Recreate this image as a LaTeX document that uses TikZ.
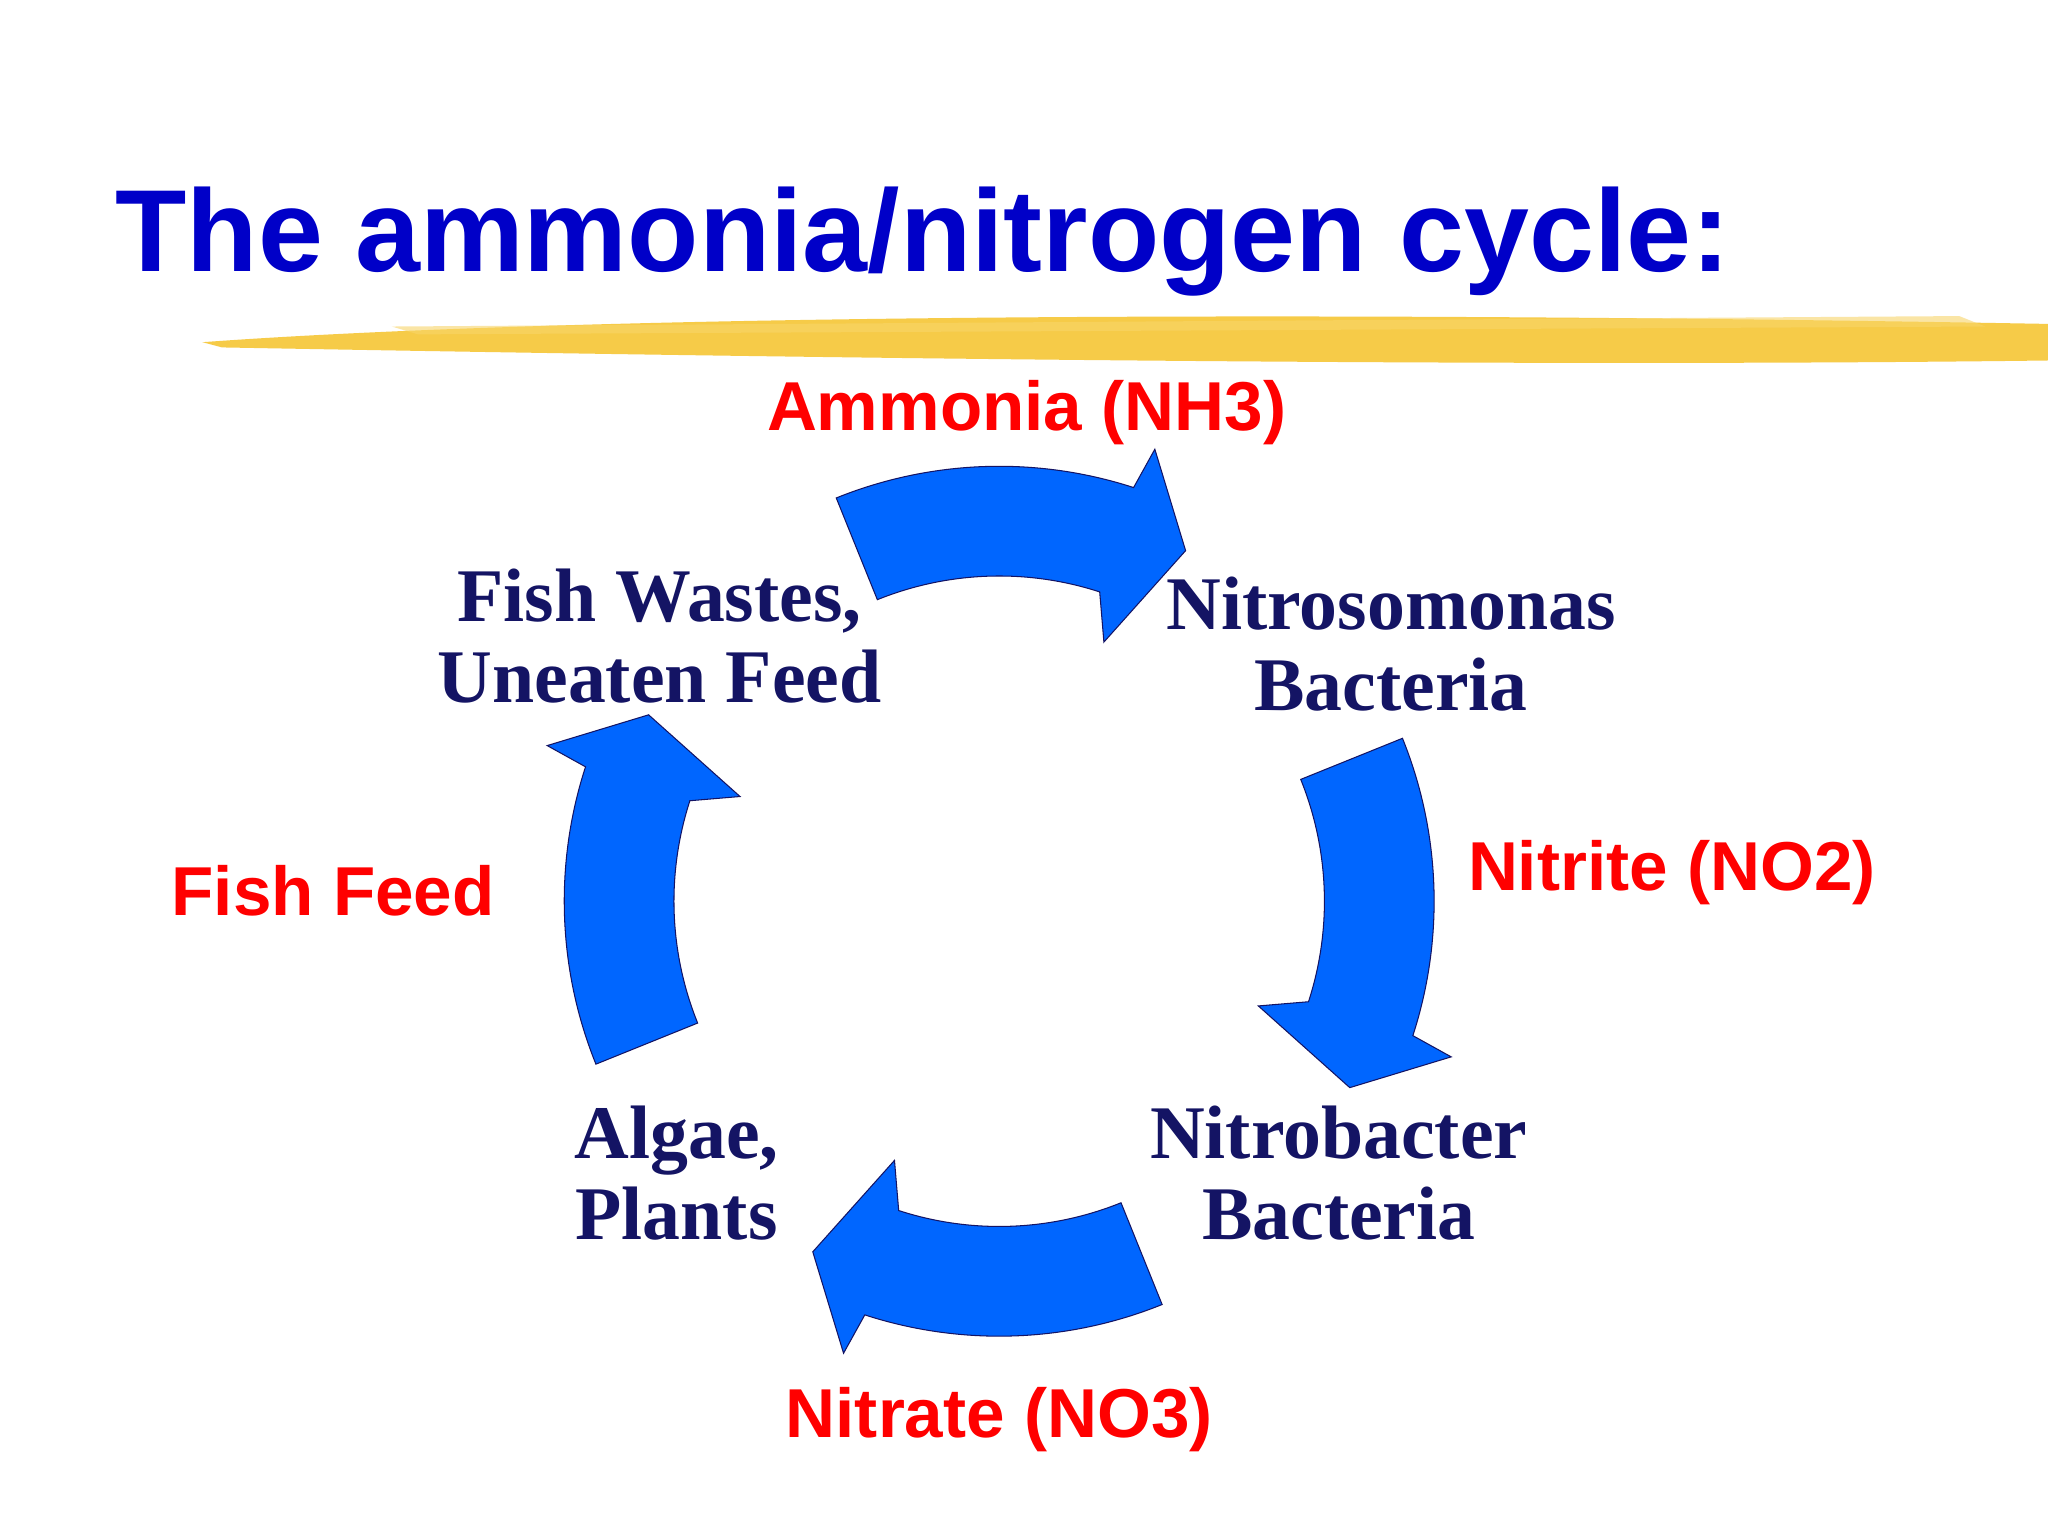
\documentclass[tikz,border=0pt]{standalone}
\usepackage{fontspec}
\setmainfont{Liberation Serif}
\setsansfont{Liberation Sans}
\definecolor{arrowblue}{RGB}{0,102,255}
\definecolor{navy}{RGB}{20,20,100}
\definecolor{titleblue}{RGB}{0,0,200}
\definecolor{brush}{RGB}{245,195,40}
\begin{document}
\begin{tikzpicture}[x=0.5pt,y=-0.5pt,
  redlbl/.style={font=\sffamily\bfseries\fontsize{26.5}{30}\selectfont,text=red},
  darklbl/.style={font=\rmfamily\bfseries\fontsize{29}{31}\selectfont,text=navy,align=center},
  cyc/.style={fill=arrowblue,draw=navy,line width=0.4pt}]
\useasboundingbox[fill=white] (0,0) rectangle (1568,1176);
% title
\node[anchor=base west,inner sep=0,text=titleblue] (title) at (88,208)
  {\resizebox{618pt}{!}{\sffamily\bfseries The ammonia/nitrogen cycle:}};
% brush stroke
\fill[brush,opacity=0.85] (155,262) .. controls (400,244) and (900,236) .. (1568,248)
  -- (1568,276) .. controls (1100,282) and (500,272) .. (170,266) -- cycle;
\fill[brush!70!white,opacity=0.6] (300,250) -- (1500,242) -- (1520,250) -- (320,256) -- cycle;
% cycle arrows
\coordinate (c) at (765,690);
\foreach \r in {0,-90,-180,-270}{
  \begin{scope}[shift={(c)},rotate=\r,x=0.5pt,y=0.5pt]
  \path[cyc] (112:333) arc (112:72:333) -- (71:366) -- (62:304) -- (68:214) -- (72:249) arc (72:112:249) -- cycle;
  \end{scope}}
% labels
\node[redlbl] (nh3) at (786,316) {Ammonia (NH3)};
\node[redlbl] (no2) at (1280,668) {Nitrite (NO2)};
\node[redlbl] (no3) at (765,1087) {Nitrate (NO3)};
\node[redlbl] (feed) at (255,682) {Fish Feed};
\node[darklbl] (waste) at (505,487) {Fish Wastes,\\Uneaten Feed};
\node[darklbl] (nitroso) at (1065,493) {Nitrosomonas\\Bacteria};
\node[darklbl] (nitrob) at (1025,898) {Nitrobacter\\Bacteria};
\node[darklbl] (algae) at (518,898) {Algae,\\Plants};
\end{tikzpicture}
\end{document}
